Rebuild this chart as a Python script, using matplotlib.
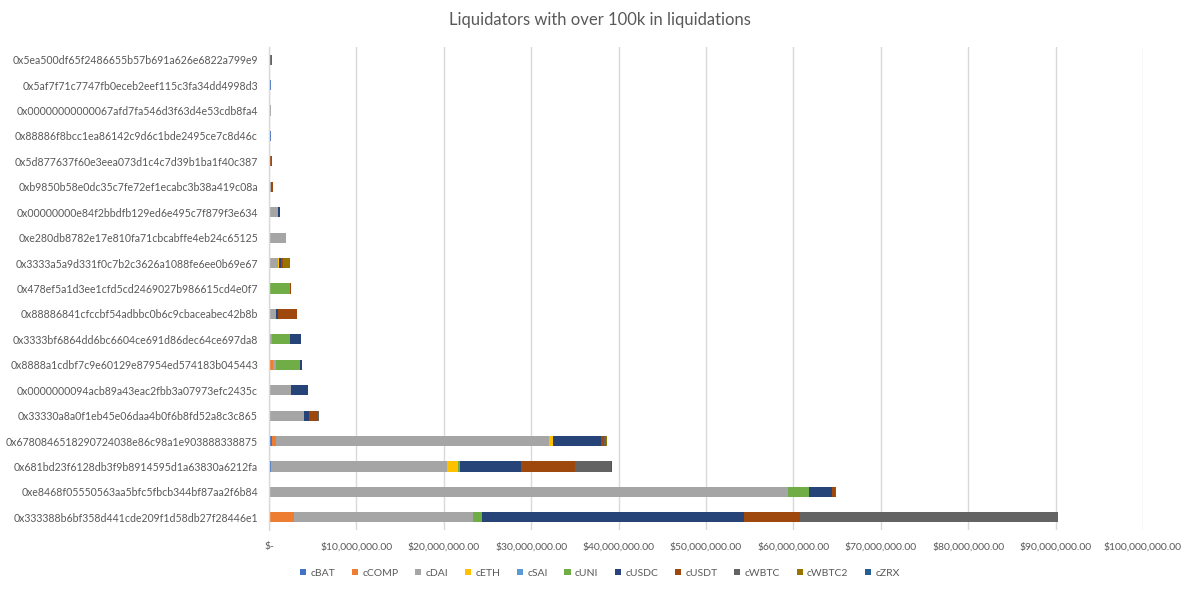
import matplotlib
matplotlib.use("Agg")
import matplotlib.pyplot as plt
from matplotlib.ticker import FuncFormatter, MultipleLocator
from matplotlib.patches import Patch
import numpy as np

plt.rcParams['font.family'] = ['Lato', 'DejaVu Sans']

title = "Liquidators with over 100k in liquidations"

# categories, bottom to top
liquidators = [
    "0x333388b6bf358d441cde209f1d58db27f28446e1",
    "0xe8468f05550563aa5bfc5fbcb344bf87aa2f6b84",
    "0x681bd23f6128db3f9b8914595d1a63830a6212fa",
    "0x6780846518290724038e86c98a1e903888338875",
    "0x33330a8a0f1eb45e06daa4b0f6b8fd52a8c3c865",
    "0x0000000094acb89a43eac2fbb3a07973efc2435c",
    "0x8888a1cdbf7c9e60129e87954ed574183b045443",
    "0x3333bf6864dd6bc6604ce691d86dec64ce697da8",
    "0x88886841cfccbf54adbbc0b6c9cbaceabec42b8b",
    "0x478ef5a1d3ee1cfd5cd2469027b986615cd4e0f7",
    "0x3333a5a9d331f0c7b2c3626a1088fe6ee0b69e67",
    "0xe280db8782e17e810fa71cbcabffe4eb24c65125",
    "0x00000000e84f2bbdfb129ed6e495c7f879f3e634",
    "0xb9850b58e0dc35c7fe72ef1ecabc3b38a419c08a",
    "0x5d877637f60e3eea073d1c4c7d39b1ba1f40c387",
    "0x88886f8bcc1ea86142c9d6c1bde2495ce7c8d46c",
    "0x00000000000067afd7fa546d3f63d4e53cdb8fa4",
    "0x5af7f71c7747fb0eceb2eef115c3fa34dd4998d3",
    "0x5ea500df65f2486655b57b691a626e6822a799e9",
]

# values in millions of dollars
cBAT   = [0, 0, 0.2, 0.3, 0, 0, 0, 0, 0, 0.06, 0, 0, 0, 0, 0, 0.25, 0, 0.25, 0]
cCOMP  = [2.86, 0, 0, 0.5, 0, 0, 0.5, 0, 0, 0, 0, 0, 0, 0, 0, 0, 0, 0, 0]
cDAI   = [20.5, 59.4, 20.2, 31.2, 4.0, 2.52, 0.3, 0.4, 0.84, 0, 1.0, 1.95, 1.0, 0.25, 0, 0, 0.2, 0, 0]
cETH   = [0, 0, 1.18, 0.46, 0, 0, 0, 0, 0, 0, 0.15, 0, 0, 0, 0, 0, 0, 0, 0]
cSAI   = [0, 0, 0, 0, 0, 0, 0, 0, 0, 0, 0, 0, 0, 0, 0, 0, 0, 0, 0]
cUNI   = [1.03, 2.4, 0.26, 0, 0, 0, 2.75, 2.0, 0, 2.33, 0, 0, 0.05, 0, 0, 0, 0, 0, 0]
cUSDC  = [30.0, 2.6, 7.0, 5.57, 0.57, 1.91, 0.2, 1.22, 0.19, 0, 0.2, 0, 0.2, 0, 0.05, 0, 0, 0, 0]
cUSDT  = [6.37, 0.38, 6.14, 0.27, 1.07, 0, 0, 0, 2.17, 0.1, 0.25, 0, 0, 0.25, 0.3, 0, 0, 0, 0]
cWBTC  = [29.5, 0.05, 4.15, 0.27, 0.05, 0, 0.05, 0, 0, 0, 0, 0, 0, 0, 0, 0, 0, 0, 0.3]
cWBTC2 = [0, 0, 0, 0.15, 0, 0, 0, 0, 0, 0, 0.84, 0, 0, 0, 0, 0, 0, 0, 0]
cZRX   = [0, 0, 0.15, 0, 0, 0, 0, 0, 0, 0, 0, 0, 0, 0, 0, 0, 0, 0, 0]

series_names = ["cBAT", "cCOMP", "cDAI", "cETH", "cSAI", "cUNI",
                "cUSDC", "cUSDT", "cWBTC", "cWBTC2", "cZRX"]
series_values = [cBAT, cCOMP, cDAI, cETH, cSAI, cUNI,
                 cUSDC, cUSDT, cWBTC, cWBTC2, cZRX]
colors = ["#4472C4", "#ED7D31", "#A5A5A5", "#FFC000", "#5B9BD5", "#70AD47",
          "#264478", "#9E480E", "#636363", "#997300", "#255E91"]

fig = plt.figure(figsize=(12, 5.94), dpi=100)
ax = fig.add_axes([269/1200, 64/594, 874/1200, 483/594])

y = np.arange(len(liquidators))
left = np.zeros(len(liquidators))
for name, vals, col in zip(series_names, series_values, colors):
    v = np.array(vals) * 1e6
    ax.barh(y, v, left=left, height=0.4, color=col, edgecolor='none', label=name)
    left += v

ax.set_xlim(0, 100e6)
ax.set_ylim(-0.5, len(liquidators) - 0.5)
ax.xaxis.set_major_locator(MultipleLocator(10e6))

def fmt(x, pos):
    if abs(x) < 1:
        return "$-"
    return "${:,.2f}".format(x)

ax.xaxis.set_major_formatter(FuncFormatter(fmt))
ax.set_yticks(y)
ax.set_yticklabels(liquidators)
ax.tick_params(axis='both', length=0, colors='#595959')
ax.tick_params(axis='y', pad=8, labelsize=7.6)
ax.tick_params(axis='x', pad=9, labelsize=7.5)

ax.grid(axis='x', color='#D9D9D9', linewidth=1)
ax.set_axisbelow(True)
for s in ['top', 'right', 'bottom']:
    ax.spines[s].set_visible(False)
ax.spines['left'].set_color('#D9D9D9')
ax.spines['left'].set_linewidth(1)

fig.text(0.5, 1 - 20/594, title, ha='center', va='center', fontsize=12, color='#595959')

handles = [Patch(facecolor=c, edgecolor='none') for c in colors]
fig.legend(handles, series_names, loc='center', bbox_to_anchor=(0.5, 1 - 573/594),
           ncol=11, frameon=False, fontsize=7.5, handlelength=0.6, handleheight=0.6,
           handletextpad=0.4, columnspacing=1.6, labelcolor='#595959')

fig.savefig("out.png", dpi=100)
